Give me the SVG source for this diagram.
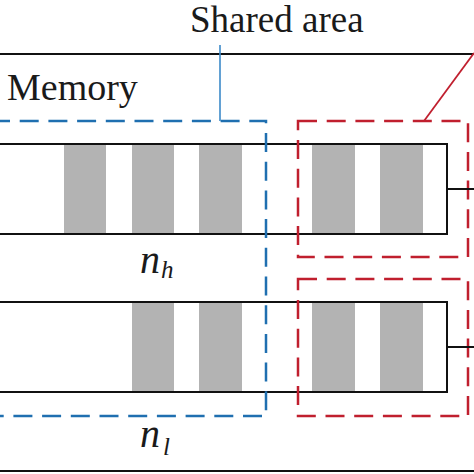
<svg xmlns="http://www.w3.org/2000/svg" width="474" height="474" viewBox="0 0 474 474">
<style>
.frame{fill:none;stroke:#111;stroke-width:2}
.bar{fill:#fff;stroke:#111;stroke-width:2}
.cell{fill:#b3b3b3;stroke:none}
.blue{fill:none;stroke:#1f6fb0;stroke-width:2.5;stroke-dasharray:19 9.7}
.red{fill:none;stroke:#c01f2e;stroke-width:2.5;stroke-dasharray:19 9.7}
.lead-b{fill:none;stroke:#3b8ac9;stroke-width:1.6}
.lead-r{fill:none;stroke:#c01f2e;stroke-width:1.8}
.wire{fill:none;stroke:#111;stroke-width:2}
text{font-family:"Times New Roman",Times,"Liberation Serif",Tinos,"DejaVu Serif","Noto Serif",FreeSerif,serif;fill:#1a1a1a}
</style>
<rect width="474" height="474" fill="#fff"/>
<g id="memory">
<line class="frame" x1="0" y1="54" x2="474" y2="54"/>
<line class="frame" x1="0" y1="471" x2="474" y2="471"/>
<text x="7" y="100" font-size="38">Memory</text>
</g>
<g id="bar-h">
<rect class="bar" x="-5" y="144" width="452" height="90"/>
<rect class="cell" x="64" y="145" width="42" height="88"/>
<rect class="cell" x="132" y="145" width="42" height="88"/>
<rect class="cell" x="199" y="145" width="43" height="88"/>
<rect class="cell" x="312" y="145" width="43" height="88"/>
<rect class="cell" x="380" y="145" width="43" height="88"/>
<text x="140" y="273" font-style="italic" font-size="40">n<tspan font-size="25" dy="5" dx="1">h</tspan></text>
</g>
<g id="bar-l">
<rect class="bar" x="-5" y="302" width="452" height="90"/>
<rect class="cell" x="132" y="303" width="42" height="88"/>
<rect class="cell" x="199" y="303" width="43" height="88"/>
<rect class="cell" x="312" y="303" width="43" height="88"/>
<rect class="cell" x="380" y="303" width="43" height="88"/>
<text x="140" y="447" font-style="italic" font-size="40">n<tspan font-size="25" dy="8" dx="3">l</tspan></text>
</g>
<g id="shared-blue">
<path class="blue" d="M-9,121 H266 V416 H-9"/>
</g>
<g id="shared-red-h">
<path class="red" d="M298,121 H468 V257 H298 Z"/>
</g>
<g id="shared-red-l">
<path class="red" d="M298,279 H468 V416 H298 Z"/>
</g>
<g id="shared-label">
<text x="190" y="32" font-size="37">Shared area</text>
</g>
<g id="connectors">
<path class="lead-b" d="M220,45 V121"/>
<path class="lead-r" d="M424,121 L474,53"/>
<line class="wire" x1="447" y1="189" x2="474" y2="189"/>
<line class="wire" x1="447" y1="347" x2="474" y2="347"/>
</g>
</svg>
